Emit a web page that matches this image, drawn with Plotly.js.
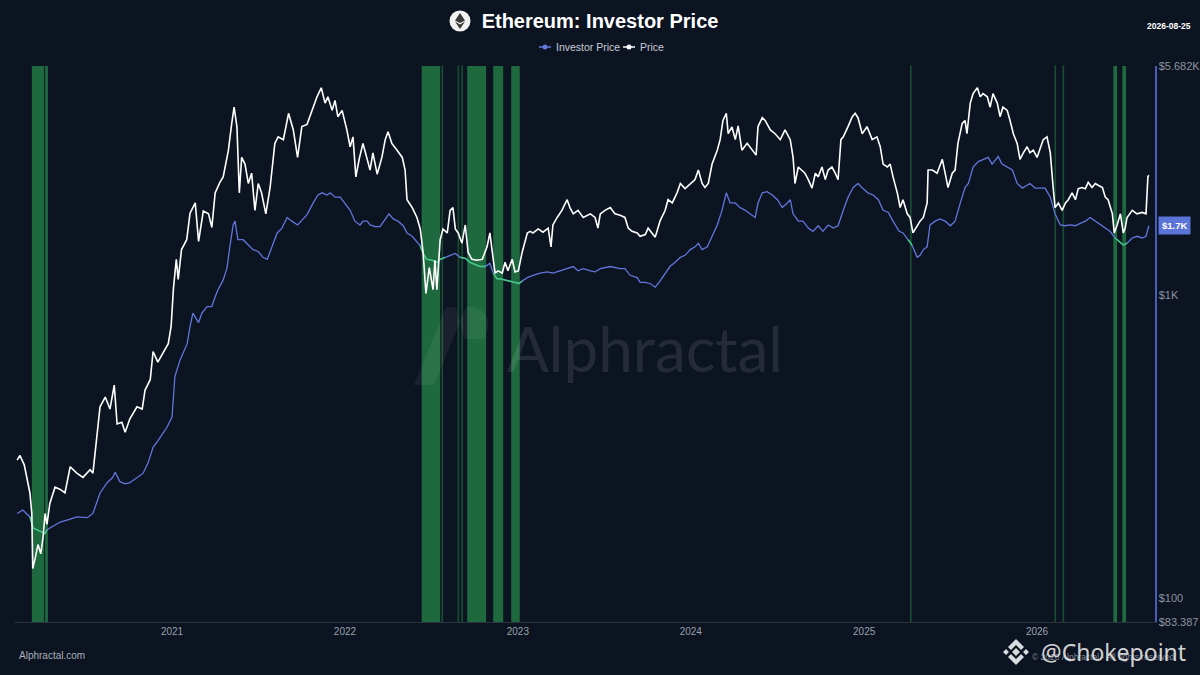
<!DOCTYPE html>
<html>
<head>
<meta charset="utf-8">
<script src="https://cdn.plot.ly/plotly-3.0.1.min.js"></script>
<style>
html,body{margin:0;padding:0;background:#0c1321;}
#chart{width:1200px;height:675px;}
</style>
</head>
<body>
<div id="chart"></div>
<script>
// ---------------- DATA ----------------
const priceDates = [
'2020-02-09','2020-02-15','2020-02-24','2020-03-01','2020-03-07','2020-03-11','2020-03-13','2020-03-18','2020-03-24','2020-03-30',
'2020-04-04','2020-04-08','2020-04-12','2020-04-18','2020-04-29','2020-05-10','2020-05-20','2020-05-31','2020-06-14','2020-06-27',
'2020-07-12','2020-07-18','2020-07-27','2020-08-02','2020-08-13','2020-08-23','2020-09-01','2020-09-07','2020-09-17','2020-09-24',
'2020-10-04','2020-10-19','2020-10-30','2020-11-05','2020-11-16','2020-11-22','2020-12-02','2020-12-13','2020-12-24','2020-12-30',
'2021-01-04','2021-01-10','2021-01-14','2021-01-21','2021-02-01','2021-02-08','2021-02-19','2021-02-26','2021-03-08','2021-03-19',
'2021-03-26','2021-04-02','2021-04-12','2021-04-19','2021-04-30','2021-05-07','2021-05-12','2021-05-18','2021-05-23','2021-05-28',
'2021-06-04','2021-06-11','2021-06-18','2021-06-25','2021-07-02','2021-07-09','2021-07-18','2021-07-27','2021-08-06','2021-08-13',
'2021-08-24','2021-09-04','2021-09-14','2021-09-23','2021-10-02','2021-10-13','2021-10-24','2021-11-03','2021-11-12','2021-11-20',
'2021-11-26','2021-12-05','2021-12-11','2021-12-17','2021-12-26','2022-01-05','2022-01-12','2022-01-18','2022-01-24','2022-01-31',
'2022-02-08','2022-02-17','2022-02-23','2022-03-01','2022-03-10','2022-03-20','2022-03-27','2022-04-02','2022-04-10','2022-04-21',
'2022-05-02','2022-05-08','2022-05-12','2022-05-23','2022-06-02','2022-06-09','2022-06-15','2022-06-21','2022-06-28','2022-07-06',
'2022-07-10','2022-07-14','2022-07-21','2022-07-27','2022-08-05','2022-08-11','2022-08-17','2022-08-22','2022-08-28','2022-09-05',
'2022-09-12','2022-09-18','2022-09-26','2022-10-07','2022-10-18','2022-10-28','2022-11-03','2022-11-10','2022-11-14','2022-11-20',
'2022-11-29','2022-12-05','2022-12-11','2022-12-20','2022-12-26','2023-01-02','2023-01-10','2023-01-21','2023-01-27','2023-02-02',
'2023-02-13','2023-02-23','2023-03-06','2023-03-12','2023-03-16','2023-03-25','2023-04-04','2023-04-15','2023-04-21','2023-04-28',
'2023-05-08','2023-05-19','2023-06-03','2023-06-13','2023-06-19','2023-06-24','2023-07-04','2023-07-15','2023-07-25','2023-08-05',
'2023-08-15','2023-08-22','2023-08-30','2023-09-10','2023-09-16','2023-09-27','2023-10-03','2023-10-11','2023-10-18','2023-10-28',
'2023-11-08','2023-11-14','2023-11-23','2023-12-03','2023-12-10','2023-12-20','2023-12-31','2024-01-10','2024-01-17','2024-01-25',
'2024-01-31','2024-02-07','2024-02-15','2024-02-26','2024-03-03','2024-03-09','2024-03-16','2024-03-20','2024-03-28','2024-04-04',
'2024-04-10','2024-04-18','2024-04-29','2024-05-10','2024-05-18','2024-05-22','2024-05-31','2024-06-06','2024-06-17','2024-06-27',
'2024-07-08','2024-07-18','2024-07-29','2024-08-04','2024-08-08','2024-08-15','2024-08-23','2024-08-29','2024-09-05','2024-09-13',
'2024-09-20','2024-09-26','2024-10-04','2024-10-11','2024-10-17','2024-10-25','2024-11-01','2024-11-07','2024-11-13','2024-11-18',
'2024-11-28','2024-12-07','2024-12-13','2024-12-19','2024-12-28','2025-01-07','2025-01-18','2025-01-28','2025-02-04','2025-02-10',
'2025-02-19','2025-02-25','2025-03-03','2025-03-12','2025-03-18','2025-03-24','2025-04-02','2025-04-08','2025-04-14','2025-04-23',
'2025-04-29','2025-05-06','2025-05-14','2025-05-16','2025-05-25','2025-06-04','2025-06-15','2025-06-21','2025-06-27','2025-07-06',
'2025-07-12','2025-07-18','2025-07-27','2025-08-02','2025-08-06','2025-08-13','2025-08-19','2025-08-28','2025-09-03','2025-09-09',
'2025-09-18','2025-09-24','2025-09-30','2025-10-09','2025-10-15','2025-10-21','2025-10-30','2025-11-05','2025-11-12','2025-11-20',
'2025-11-26','2025-12-03','2025-12-11','2025-12-17','2025-12-24','2026-01-01','2026-01-08','2026-01-14','2026-01-22','2026-01-29',
'2026-02-04','2026-02-08','2026-02-15','2026-02-23','2026-03-02','2026-03-08','2026-03-16','2026-03-23','2026-03-29','2026-04-06',
'2026-04-13','2026-04-19','2026-04-27','2026-05-04','2026-05-10','2026-05-19','2026-05-25','2026-05-31','2026-06-09','2026-06-13',
'2026-06-19','2026-06-26','2026-07-02','2026-07-06','2026-07-10','2026-07-21','2026-07-31','2026-08-11','2026-08-19','2026-08-23',
'2026-08-25'
];
const priceValues = [
285,295,275,250,222,190,125,135,150,140,
160,190,175,205,232,228,222,271,258,250,
265,258,340,427,460,420,504,375,380,352,
390,427,420,485,525,650,600,640,690,785,
1050,1310,1125,1410,1520,1860,2010,1500,1890,1850,
1670,2170,2350,2450,3000,3680,4160,3580,2170,2840,
2700,2330,2520,1900,2330,2170,1850,2260,3160,3320,
3250,3970,3500,2840,3590,3650,4060,4500,4820,4290,
4500,4060,4380,3870,4060,3500,3080,3320,2450,2800,
3160,2800,2580,2940,2500,2840,3250,3450,3160,3000,
2840,2580,2060,1940,1800,1650,1380,1010,1230,1040,
1300,1040,1520,1650,1600,1900,1940,1650,1600,1480,
1700,1380,1310,1300,1310,1440,1600,1310,1180,1200,
1180,1280,1200,1310,1190,1200,1380,1600,1620,1600,
1650,1610,1660,1440,1700,1800,1900,2060,1940,1850,
1900,1800,1850,1800,1660,1850,1900,1940,1850,1830,
1800,1660,1620,1600,1560,1580,1660,1600,1550,1750,
1900,2060,2010,2170,2330,2240,2330,2400,2580,2330,
2260,2330,2700,3000,3250,3760,3970,3400,3580,3250,
3610,3000,3160,3000,2890,3590,3840,3760,3500,3400,
3250,3500,3250,2840,2330,2640,2580,2520,2400,2250,
2520,2450,2640,2400,2580,2640,2520,2400,3250,3320,
3590,3870,3970,3840,3400,3590,3250,3320,3080,2700,
2640,2700,2450,2170,1940,2060,1850,1800,1600,1700,
1750,1800,2010,2580,2580,2520,2800,2520,2260,2520,
2580,3160,3680,3760,3400,4290,4610,4820,4500,4610,
4500,4160,4610,4290,3870,4160,4060,3760,3400,3160,
2800,2940,3080,2940,3000,2840,3080,3250,3320,2940,
2260,1940,2010,1900,2010,2060,2170,2060,2240,2260,
2240,2350,2260,2330,2300,2260,2100,2060,1850,1600,
1700,1850,1600,1660,1800,1900,1850,1870,1850,2450,
2480
];

const investorDates = [
'2020-02-09','2020-02-21','2020-03-07','2020-03-14','2020-03-28','2020-04-08','2020-04-12','2020-04-25','2020-05-10','2020-05-31',
'2020-06-14','2020-07-06','2020-07-18','2020-08-02','2020-08-17','2020-08-29','2020-09-03','2020-09-13','2020-09-24','2020-10-04',
'2020-10-19','2020-11-01','2020-11-11','2020-11-22','2020-12-02','2020-12-13','2020-12-21','2021-01-01','2021-01-04','2021-01-07',
'2021-01-18','2021-01-24','2021-02-02','2021-02-08','2021-02-14','2021-02-26','2021-03-05','2021-03-16','2021-03-26','2021-04-02',
'2021-04-08','2021-04-19','2021-04-27','2021-05-03','2021-05-10','2021-05-14','2021-05-20','2021-05-31','2021-06-11','2021-06-21',
'2021-07-02','2021-07-12','2021-07-21','2021-07-31','2021-08-11','2021-08-21','2021-09-01','2021-09-11','2021-09-23','2021-10-02',
'2021-10-13','2021-10-26','2021-11-05','2021-11-14','2021-11-24','2021-12-01','2021-12-11','2021-12-22','2022-01-01','2022-01-12',
'2022-01-22','2022-02-02','2022-02-08','2022-02-17','2022-02-23','2022-03-06','2022-03-16','2022-03-27','2022-04-04','2022-04-13',
'2022-04-23','2022-05-04','2022-05-12','2022-05-23','2022-06-02','2022-06-09','2022-06-15','2022-06-23','2022-07-04','2022-07-14',
'2022-07-21','2022-07-31','2022-08-11','2022-08-22','2022-09-01','2022-09-12','2022-09-22','2022-10-03','2022-10-13','2022-10-24',
'2022-11-03','2022-11-10','2022-11-18','2022-11-24','2022-12-05','2022-12-16','2022-12-26','2023-01-04','2023-01-10','2023-01-21',
'2023-02-02','2023-02-17','2023-03-04','2023-03-16','2023-03-31','2023-04-15','2023-04-28','2023-05-08','2023-05-19','2023-06-03',
'2023-06-13','2023-06-24','2023-07-15','2023-08-05','2023-08-15','2023-08-26','2023-09-10','2023-09-16','2023-09-27','2023-10-07',
'2023-10-18','2023-10-28','2023-11-08','2023-11-18','2023-11-29','2023-12-10','2023-12-20','2023-12-31','2024-01-10','2024-01-17',
'2024-01-25','2024-02-05','2024-02-15','2024-02-26','2024-03-07','2024-03-16','2024-03-24','2024-04-04','2024-04-14','2024-04-25',
'2024-05-05','2024-05-16','2024-05-22','2024-05-31','2024-06-10','2024-06-21','2024-07-02','2024-07-12','2024-07-23','2024-07-29',
'2024-08-04','2024-08-15','2024-08-25','2024-09-05','2024-09-15','2024-09-26','2024-10-06','2024-10-17','2024-10-28','2024-11-07',
'2024-11-18','2024-11-28','2024-12-09','2024-12-19','2024-12-30','2025-01-09','2025-01-20','2025-01-31','2025-02-10','2025-02-21',
'2025-03-03','2025-03-16','2025-03-24','2025-04-04','2025-04-12','2025-04-23','2025-04-29','2025-05-06','2025-05-14','2025-05-20',
'2025-05-31','2025-06-10','2025-06-21','2025-07-02','2025-07-12','2025-07-23','2025-08-02','2025-08-09','2025-08-19','2025-08-30',
'2025-09-09','2025-09-20','2025-09-28','2025-10-05','2025-10-11','2025-10-19','2025-10-30','2025-11-10','2025-11-20','2025-12-01',
'2025-12-11','2025-12-17','2025-12-28','2026-01-08','2026-01-18','2026-01-29','2026-02-08','2026-02-19','2026-03-02','2026-03-12',
'2026-03-23','2026-04-02','2026-04-13','2026-04-23','2026-05-04','2026-05-14','2026-05-25','2026-06-04','2026-06-15','2026-06-26',
'2026-07-02','2026-07-10','2026-07-21','2026-07-31','2026-08-11','2026-08-19','2026-08-25'
];
const investorValues = [
190,195,185,170,166,163,168,173,178,182,
185,184,190,222,240,250,260,242,238,240,
250,258,278,314,330,348,365,395,460,538,
610,640,690,785,870,810,870,915,915,985,
1040,1120,1225,1440,1700,1750,1520,1520,1460,1410,
1390,1330,1310,1440,1600,1660,1800,1750,1700,1760,
1840,2010,2135,2170,2135,2170,2100,2100,2010,1900,
1750,1700,1750,1750,1700,1680,1680,1780,1850,1780,
1750,1690,1600,1560,1490,1450,1370,1310,1300,1280,
1310,1330,1350,1370,1330,1320,1280,1260,1240,1240,
1270,1180,1130,1130,1120,1110,1100,1090,1110,1140,
1160,1180,1190,1180,1200,1220,1240,1200,1220,1200,
1190,1220,1240,1220,1220,1160,1140,1100,1100,1090,
1060,1110,1180,1240,1280,1330,1350,1410,1440,1480,
1410,1440,1560,1700,1900,2170,2010,2010,1940,1900,
1850,1800,2010,2170,2190,2135,2060,1940,2010,2060,
1850,1750,1750,1660,1620,1690,1620,1700,1660,1690,
1900,2100,2260,2330,2240,2170,2135,2060,1900,1870,
1750,1620,1600,1520,1460,1330,1350,1410,1440,1700,
1750,1780,1750,1690,1750,2010,2260,2330,2640,2750,
2800,2840,2700,2800,2860,2700,2640,2580,2330,2250,
2300,2330,2250,2250,2250,2100,1850,1700,1690,1700,
1690,1720,1750,1800,1750,1700,1660,1620,1540,1480,
1460,1480,1540,1560,1540,1560,1690
];

// periods when price traded below the investor price (green bands)
const bandStarts = ['2020-03-11','2020-04-08','2022-06-12','2022-07-25','2022-08-28','2022-09-05','2022-09-16','2022-11-10','2022-12-18','2025-04-09','2026-02-08','2026-02-25','2026-06-11','2026-06-30'];
const bandEnds   = ['2020-04-06','2020-04-14','2022-07-21','2022-07-26','2022-08-29','2022-09-06','2022-10-26','2022-12-01','2023-01-05','2025-04-10','2026-02-09','2026-02-26','2026-06-19','2026-07-08'];

const yTickVals = [83.387, 100, 1000, 5682];
const yTickText = ['$83.387', '$100', '$1K', '$5.682K'];
const lastDate = '2026-08-25';

// ---------------- BUILD ----------------
const BG = '#0c1321';
const BLUE = '#6276dc';
const GREEN = '#3fcf78';
const DAY = 86400000;

const bandMs = bandStarts.map((s, i) => [Date.parse(s), Date.parse(bandEnds[i])]);
const greenInvestor = investorDates.map((d, i) => {
  const t = Date.parse(d);
  return bandMs.some(b => t >= b[0] - 5 * DAY && t <= b[1] + 5 * DAY) ? investorValues[i] : null;
});

const PX = x => (x - 15) / 1140;
const PY = y => (622 - y) / 556;

const traces = [
  { x: investorDates, y: investorValues, type: 'scatter', mode: 'lines', name: 'Investor Price',
    line: { color: BLUE, width: 1.3 }, showlegend: false, hoverinfo: 'skip' },
  { x: investorDates, y: greenInvestor, type: 'scatter', mode: 'lines', name: 'Below',
    line: { color: GREEN, width: 1.4 }, showlegend: false, connectgaps: false, hoverinfo: 'skip' },
  { x: priceDates, y: priceValues, type: 'scatter', mode: 'lines', name: 'Price',
    line: { color: '#ffffff', width: 1.6 }, showlegend: false, hoverinfo: 'skip' }
];

const shapes = [];
bandStarts.forEach((s, i) => {
  const thin = (bandMs[i][1] - bandMs[i][0]) < 3 * DAY;
  shapes.push({ type: 'rect', xref: 'x', yref: 'paper', x0: s, x1: bandEnds[i], y0: 0, y1: 1,
    fillcolor: thin ? '#184d31' : '#1e6a3e', line: { width: thin ? 1.2 : 0, color: '#184d31' }, layer: 'below' });
});
// legend glyphs
shapes.push({ type: 'line', xref: 'paper', yref: 'paper', x0: PX(539), x1: PX(551), y0: PY(47), y1: PY(47), line: { color: BLUE, width: 1.5 } });
shapes.push({ type: 'circle', xref: 'paper', yref: 'paper', xsizemode: 'pixel', ysizemode: 'pixel', xanchor: PX(545), yanchor: PY(47), x0: -2.5, x1: 2.5, y0: -2.5, y1: 2.5, fillcolor: BLUE, line: { width: 0 } });
shapes.push({ type: 'line', xref: 'paper', yref: 'paper', x0: PX(623), x1: PX(635), y0: PY(47), y1: PY(47), line: { color: '#ffffff', width: 1.5 } });
shapes.push({ type: 'circle', xref: 'paper', yref: 'paper', xsizemode: 'pixel', ysizemode: 'pixel', xanchor: PX(629), yanchor: PY(47), x0: -2.5, x1: 2.5, y0: -2.5, y1: 2.5, fillcolor: '#ffffff', line: { width: 0 } });
// ethereum logo
shapes.push({ type: 'circle', xref: 'paper', yref: 'paper', xsizemode: 'pixel', ysizemode: 'pixel', xanchor: PX(460), yanchor: PY(21), x0: -10.5, x1: 10.5, y0: -10.5, y1: 10.5, fillcolor: '#f2f2f2', line: { width: 0 } });
shapes.push({ type: 'path', xref: 'paper', yref: 'paper', xsizemode: 'pixel', ysizemode: 'pixel', xanchor: PX(460), yanchor: PY(21),
  path: 'M 0 8 L -5 0.5 L 0 -2 L 5 0.5 Z M 0 -3.5 L -5 -0.5 L 0 -8 L 5 -0.5 Z', fillcolor: '#3a3a3a', line: { width: 0 } });
// watermark logo
shapes.push({ type: 'path', xref: 'paper', yref: 'paper', xsizemode: 'pixel', ysizemode: 'pixel', xanchor: PX(452), yanchor: PY(345),
  path: 'M -38 -40 L -6 38 L 14 38 L -18 -40 Z M 4 38 L 22 38 Q 44 30 32 6 L 12 6 Z', fillcolor: 'rgba(255,255,255,0.06)', line: { width: 0 } });
// binance-like badge
shapes.push({ type: 'path', xref: 'paper', yref: 'paper', xsizemode: 'pixel', ysizemode: 'pixel', xanchor: PX(1016), yanchor: PY(652),
  path: 'M 0 4 L 4 0 L 0 -4 L -4 0 Z M -10 3 L -7 0 L -10 -3 L -13 0 Z M 10 3 L 13 0 L 10 -3 L 7 0 Z ' +
        'M 0 13 L 8 5 L 5 2 L 0 7 L -5 2 L -8 5 Z M 0 -13 L 8 -5 L 5 -2 L 0 -7 L -5 -2 L -8 -5 Z',
  fillcolor: 'rgba(255,255,255,0.85)', line: { width: 0 } });

const lastInv = investorValues[investorValues.length - 1];
const annotations = [
  { xref: 'paper', yref: 'paper', x: PX(554), y: PY(47), xanchor: 'left', yanchor: 'middle', showarrow: false,
    text: 'Investor Price', font: { family: 'Liberation Sans, Arial', size: 10.5, color: '#c9cdd6' } },
  { xref: 'paper', yref: 'paper', x: PX(638), y: PY(47), xanchor: 'left', yanchor: 'middle', showarrow: false,
    text: 'Price', font: { family: 'Liberation Sans, Arial', size: 10.5, color: '#c9cdd6' } },
  { xref: 'paper', yref: 'paper', x: PX(1169), y: PY(26), xanchor: 'center', yanchor: 'middle', showarrow: false,
    text: '<b>' + lastDate + '</b>', font: { family: 'Liberation Sans, Arial', size: 8.5, color: '#ffffff' } },
  { xref: 'paper', yref: 'paper', x: PX(17), y: PY(655), xanchor: 'left', yanchor: 'middle', showarrow: false,
    text: 'Alphractal.com', font: { family: 'Liberation Sans, Arial', size: 10, color: '#a9afba' } },
  { xref: 'paper', yref: 'paper', x: PX(1103), y: PY(657), xanchor: 'center', yanchor: 'middle', showarrow: false,
    text: '© 2026 Alphractal - All rights reserved', font: { family: 'Liberation Sans, Arial', size: 8.5, color: '#7e8592' } },
  { xref: 'paper', yref: 'paper', x: PX(1113), y: PY(652), xanchor: 'center', yanchor: 'middle', showarrow: false,
    text: '@Chokepoint', font: { family: 'Noto Sans, Open Sans, sans-serif', size: 23, color: 'rgba(235,235,235,0.9)' } },
  { xref: 'paper', yref: 'paper', x: PX(645), y: PY(348), xanchor: 'center', yanchor: 'middle', showarrow: false,
    text: 'Alphractal', font: { family: 'Lato, Inter, sans-serif', size: 62, color: 'rgba(255,255,255,0.10)' } },
  { xref: 'paper', yref: 'y', x: 1, y: Math.log10(lastInv), xanchor: 'left', yanchor: 'middle', xshift: 3, showarrow: false,
    text: '<b>$' + (lastInv / 1000).toFixed(1) + 'K</b>', bgcolor: '#5b74d8', borderpad: 3,
    font: { family: 'Liberation Sans, Arial', size: 9.5, color: '#ffffff' } }
];

const layout = {
  width: 1200, height: 675,
  paper_bgcolor: BG, plot_bgcolor: BG,
  margin: { l: 15, r: 45, t: 66, b: 53 },
  showlegend: false,
  title: { text: '<b>Ethereum: Investor Price</b>', x: 0.5, xref: 'container', xanchor: 'center',
    y: 1 - 21 / 675, yref: 'container', yanchor: 'middle',
    font: { family: 'Liberation Sans, Arial', size: 20, color: '#ffffff' } },
  xaxis: {
    type: 'date', range: ['2020-02-04 12:00', '2026-09-07'],
    showgrid: false, zeroline: false, showline: true, linecolor: '#2c3341', linewidth: 1,
    ticks: '', tickformat: '%Y', dtick: 'M12', tick0: '2021-01-01',
    tickfont: { family: 'Liberation Sans, Arial', size: 10, color: '#9aa0ab' }
  },
  yaxis: {
    type: 'log', side: 'right',
    range: [Math.log10(83.387) - 0.0004, Math.log10(5682) + 0.0004],
    showgrid: false, zeroline: false, showline: true, linecolor: '#4b5cb8', linewidth: 1.5,
    ticks: '', tickvals: yTickVals, ticktext: yTickText,
    tickfont: { family: 'Liberation Sans, Arial', size: 11, color: '#8c93a0' }
  },
  shapes: shapes,
  annotations: annotations
};

Plotly.newPlot('chart', traces, layout, { displayModeBar: false, staticPlot: true });
</script>
</body>
</html>
